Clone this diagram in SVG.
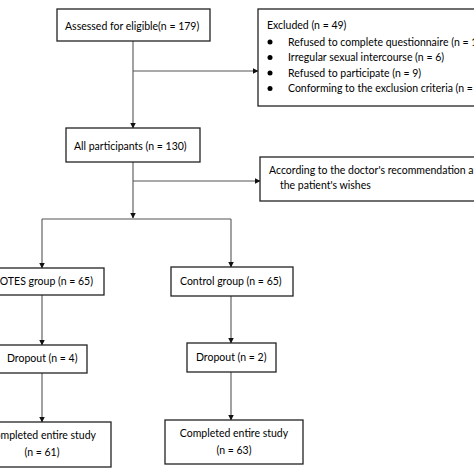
<svg xmlns="http://www.w3.org/2000/svg" width="474" height="474" viewBox="0 0 474 474">
<defs>
<style>
.box{fill:#fff;stroke:#222;stroke-width:1.3}
.t{font-family:Lato,"Liberation Sans",sans-serif;font-size:10.5px;fill:#000}
.c{text-anchor:middle}
.ln{fill:none;stroke:#555;stroke-width:1.1}
</style>
<marker id="ah" markerWidth="6" markerHeight="6" refX="5.5" refY="3" orient="auto" markerUnits="userSpaceOnUse">
<path d="M0,0 L6,3 L0,6 Z" fill="#111"/>
</marker>
</defs>
<rect width="474" height="474" fill="#fff"/>
<g id="connectors">
<path class="ln" d="M133,41 V128" marker-end="url(#ah)"/>
<path class="ln" d="M133,71 H258" marker-end="url(#ah)"/>
<path class="ln" d="M133,162 V218" marker-end="url(#ah)"/>
<path class="ln" d="M133,181 H260" marker-end="url(#ah)"/>
<path class="ln" d="M42,219 H231"/>
<path class="ln" d="M42,219 V268" marker-end="url(#ah)"/>
<path class="ln" d="M231,219 V267" marker-end="url(#ah)"/>
<path class="ln" d="M42,295 V345" marker-end="url(#ah)"/>
<path class="ln" d="M231,296 V343" marker-end="url(#ah)"/>
<path class="ln" d="M42,373 V422" marker-end="url(#ah)"/>
<path class="ln" d="M231,372 V420" marker-end="url(#ah)"/>
</g>
<g id="assessed">
<rect class="box" x="57" y="9" width="153" height="32"/>
<text class="t" x="65" y="29.5">Assessed for eligible(n = 179)</text>
</g>
<g id="excluded">
<rect class="box" x="258" y="9" width="230" height="97"/>
<text class="t" x="267" y="29">Excluded (n = 49)</text>
<circle cx="270" cy="42" r="2.5" fill="#000"/>
<circle cx="270" cy="57.5" r="2.5" fill="#000"/>
<circle cx="270" cy="73" r="2.5" fill="#000"/>
<circle cx="270" cy="88.5" r="2.5" fill="#000"/>
<text class="t" x="288" y="45.5">Refused to complete questionnaire (n = 1</text>
<text class="t" x="288" y="61">Irregular sexual intercourse (n = 6)</text>
<text class="t" x="288" y="76.5">Refused to participate (n = 9)</text>
<text class="t" x="288" y="92">Conforming to the exclusion criteria (n =</text>
</g>
<g id="all">
<rect class="box" x="66" y="128" width="134" height="34"/>
<text class="t" x="74" y="149.5">All participants (n = 130)</text>
</g>
<g id="according">
<rect class="box" x="260" y="157" width="230" height="44"/>
<text class="t" x="269" y="174">According to the doctor's recommendation an</text>
<text class="t" x="280" y="189">the patient's wishes</text>
</g>
<g id="notes">
<rect class="box" x="-19" y="268" width="123" height="27"/>
<text class="t" x="93" y="285" text-anchor="end">NOTES group (n = 65)</text>
</g>
<g id="control">
<rect class="box" x="171" y="267" width="122" height="29"/>
<text class="t" x="180" y="285">Control group (n = 65)</text>
</g>
<g id="dropout1">
<rect class="box" x="-3" y="345" width="90" height="28"/>
<text class="t" x="7" y="362">Dropout (n = 4)</text>
</g>
<g id="dropout2">
<rect class="box" x="187" y="343" width="89" height="29"/>
<text class="t" x="196" y="361">Dropout (n = 2)</text>
</g>
<g id="completed1">
<rect class="box" x="-27" y="422" width="138" height="45"/>
<text class="t" x="96" y="439" text-anchor="end">Completed entire study</text>
<text class="t c" x="42" y="456">(n = 61)</text>
</g>
<g id="completed2">
<rect class="box" x="165" y="420" width="138" height="44"/>
<text class="t c" x="234" y="437">Completed entire study</text>
<text class="t c" x="234" y="454">(n = 63)</text>
</g>
</svg>
